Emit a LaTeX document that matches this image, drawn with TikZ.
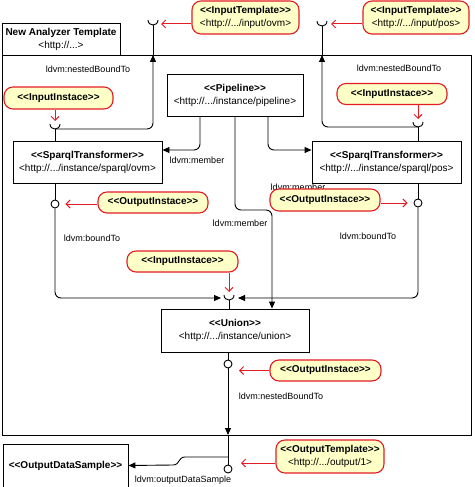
\documentclass[tikz,border=0pt]{standalone}
\usepackage{fontspec}
\setmainfont{Liberation Sans}[Ligatures=TeXOff]
\usetikzlibrary{arrows.meta,calc}
\definecolor{cred}{RGB}{228,28,36}
\definecolor{cyel}{RGB}{255,255,200}
\newcommand\mycup[1]{\draw[line width=0.9pt] ($(#1)+(-5,-5)$) .. controls ($(#1)+(-5,1.67)$) and ($(#1)+(5,1.67)$) .. ($(#1)+(5,-5)$);}
\begin{document}
\begin{tikzpicture}[x=1pt,y=-1pt,
  box/.style={draw, line width=0.9pt, fill=white, align=center, inner sep=0, font=\fontsize{10}{13}\selectfont},
  callout/.style={draw=cred, line width=1.1pt, fill=cyel, rounded corners=9pt, align=center, inner sep=0, font=\fontsize{10}{13}\selectfont},
  lbl/.style={inner sep=0, font=\fontsize{9}{11}\selectfont},
  conn/.style={line width=0.9pt, rounded corners=6pt},
  arr/.style={conn, -{Triangle[length=7pt,width=6pt]}},
  rarr/.style={draw=cred, line width=1pt, -{Straight Barb[length=4pt,width=8pt]}},
  port/.style={circle, draw, line width=0.9pt, fill=white, minimum size=8pt, inner sep=0}]
\useasboundingbox (0,0) rectangle (474,487);

% frame
\draw[line width=0.9pt] (2,435) -- (2,23) -- (120,23) -- (120,55);
\draw[line width=0.9pt] (2,55) rectangle (471,435);
\node[inner sep=0, align=center, font=\fontsize{10}{13}\selectfont] (title) at (61,39) {\textbf{New Analyzer Template}\\<http://...>};

% coordinates
\coordinate (cT1) at (153,25);
\coordinate (cT2) at (322,26);
\coordinate (fT1) at (153,55);
\coordinate (fT2) at (322,55);
\coordinate (cL) at (55,129);
\coordinate (cR) at (418,127);
\coordinate (cU) at (229,300);
\coordinate (cUl) at (221,298);
\coordinate (cUr) at (238,298);
\coordinate (bend) at (235,210);
\coordinate (fB) at (228,435);
\coordinate (br) at (228,457);

% boxes
\node[box, minimum width=136pt, minimum height=42pt] (pipe) at (235,95) {\textbf{<<Pipeline>>}\\<http://.../instance/pipeline>};
\node[box, minimum width=149pt, minimum height=42pt] (stL) at (87.5,162) {\textbf{<<SparqlTransformer>>}\\<http://.../instance/sparql/ovm>};
\node[box, minimum width=149pt, minimum height=42pt] (stR) at (386.5,162) {\textbf{<<SparqlTransformer>>}\\<http://.../instance/sparql/pos>};
\node[box, minimum width=148pt, minimum height=43pt] (union) at (235,330.5) {\textbf{<<Union>>}\\<http://.../instance/union>};
\node[box, minimum width=125pt, minimum height=43pt] (ods) at (65.5,465.5) {\textbf{<<OutputDataSample>>}};

% ports
\node[port] (oL) at (55,204) {};
\node[port] (oR) at (418,203) {};
\node[port] (oU) at (228,364) {};
\node[port] (oB) at (228,469) {};
\mycup{cT1}
\mycup{cT2}
\mycup{cL}
\mycup{cR}
\mycup{cU}

% connectors
\draw[arr] (cL) -| (fT1);
\draw[conn] (fT1) -- (cT1);
\draw[arr] (cR) -| (fT2);
\draw[conn] (fT2) -- (cT2);
\draw[conn] (cL) -- (cL |- stL.north);
\draw[conn] (cR) -- (cR |- stR.north);
\draw[arr] ([xshift=-35pt]pipe.south) |- ([yshift=12pt]stL.east);
\draw[arr] ([xshift=33pt]pipe.south) |- ([yshift=12pt]stR.west);
\draw[arr] (pipe.south) -- (bend) -| ([xshift=37pt]union.north);
\draw[conn] (stL.south -| oL) -- (oL.north);
\draw[conn] (stR.south -| oR) -- (oR.north);
\draw[arr] (oL.south) |- (cUl);
\draw[arr] (oR.south) |- (cUr);
\draw[conn] (cU) -- (cU |- union.north);
\draw[conn] (union.south -| oU) -- (oU.north);
\draw[arr] (oU.south) -- (fB);
\draw[conn] (fB) -- (oB.north);
\draw[line width=0.9pt, -{Triangle[length=7pt,width=6pt]}] (br) -- (185,457) .. controls (178,457) and (180,465) .. (173,465) -- (ods.east);

% labels
\node[lbl] (l1) at (88,69) {ldvm:nestedBoundTo};
\node[lbl] (l2) at (399,68) {ldvm:nestedBoundTo};
\node[lbl] (l3) at (197,160) {ldvm:member};
\node[lbl] (l4) at (240,223) {ldvm:member};
\node[lbl] (l5) at (298,187) {ldvm:member};
\node[lbl] (l6) at (92,238) {ldvm:boundTo};
\node[lbl] (l7) at (368,236) {ldvm:boundTo};
\node[lbl] (l8) at (281,396) {ldvm:nestedBoundTo};
\node[lbl] (l9) at (183,480) {ldvm:outputDataSample};

% callouts
\node[callout, minimum width=107pt, minimum height=33pt] (it1) at (245.5,17.5) {\textbf{<<InputTemplate>>}\\<http://.../input/ovm>};
\node[callout, minimum width=106pt, minimum height=33pt] (it2) at (416,17.5) {\textbf{<<InputTemplate>>}\\<http://.../input/pos>};
\node[callout, minimum width=109pt, minimum height=22pt] (iiL) at (58.5,98) {\textbf{<<InputInstace>>}};
\node[callout, minimum width=110pt, minimum height=21pt] (iiR) at (392,94) {\textbf{<<InputInstace>>}};
\node[callout, minimum width=110pt, minimum height=21pt] (oiL) at (153,202.5) {\textbf{<<OutputInstace>>}};
\node[callout, minimum width=110pt, minimum height=22pt] (oiR) at (325,200) {\textbf{<<OutputInstace>>}};
\node[callout, minimum width=111pt, minimum height=21pt] (iiU) at (182.5,261.5) {\textbf{<<InputInstace>>}};
\node[callout, minimum width=111pt, minimum height=21pt] (oiU) at (325.5,370.5) {\textbf{<<OutputInstace>>}};
\node[callout, minimum width=108pt, minimum height=33pt] (ot) at (330,456.5) {\textbf{<<OutputTemplate>>}\\<http://.../output/1>};

\coordinate (tT1) at (161,24);
\coordinate (tT2) at (331,24);
\coordinate (tU) at (239,370.5);
\coordinate (tO) at (241,463);
\draw[rarr] ([yshift=-6.5pt]it1.west) -- (tT1);
\draw[rarr] ([yshift=-6.5pt]it2.west) -- (tT2);
\draw[rarr] (iiL.south -| cL) -- ([yshift=8pt]cL);
\draw[rarr] (iiR.south -| cR) -- ([yshift=8pt]cR);
\draw[rarr] (oiL.west |- oL) -- ([xshift=6pt]oL.east);
\draw[rarr] (oiR.east |- oR) -- ([xshift=-6pt]oR.west);
\draw[rarr] (iiU.south -| cU) -- ([yshift=8pt]cU);
\draw[rarr] (oiU.west) -- (tU);
\draw[rarr] ([yshift=-6.5pt]ot.west) -- (tO);
\end{tikzpicture}
\end{document}
